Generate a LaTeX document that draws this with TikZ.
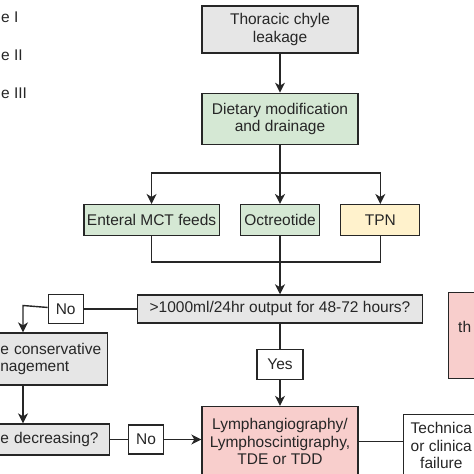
\documentclass[tikz,border=0pt]{standalone}
\usepackage{fontspec}
\setmainfont{Liberation Sans}
\usepackage{tikz}
\usetikzlibrary{arrows.meta,positioning}

\definecolor{boxgrey}{HTML}{E6E6E6}
\definecolor{boxgreen}{HTML}{D5E8D4}
\definecolor{boxyellow}{HTML}{FFF2CC}
\definecolor{boxpink}{HTML}{F8CECC}
\definecolor{linegrey}{HTML}{262626}

\begin{document}
\begin{tikzpicture}[x=1pt,y=-1pt,>={Stealth[length=10pt,width=10pt,inset=3pt]},
    font=\fontsize{15.5}{17.5}\selectfont,text=linegrey,
    every node/.style={inner xsep=3pt,inner ysep=2pt},
    base box/.style={rectangle,draw=linegrey,line width=1.3pt,align=center},
    grey box/.style={base box,fill=boxgrey},
    green box/.style={base box,fill=boxgreen},
    yellow box/.style={base box,fill=boxyellow},
    pink box/.style={base box,fill=boxpink},
    answer box/.style={base box,fill=white,minimum width=35pt,minimum height=29pt},
    link/.style={draw=linegrey,line width=1.4pt}]
  \useasboundingbox (0,0) rectangle (474,474);
  \clip (0,0) rectangle (474,474);

  % legend (cut off on the left)
  \node[anchor=west] (t1) at (-2,17) {e I};
  \node[anchor=west] (t2) at (-2,55) {e II};
  \node[anchor=west] (t3) at (-2,93) {e III};

  % main column
  \node[grey box,minimum width=156pt,minimum height=47pt] (thor) at (280,29.5) {Thoracic chyle\\leakage};
  \node[green box,minimum width=156pt,minimum height=51pt] (diet) [below=39pt of thor] {Dietary modification\\and drainage};
  \node[green box,minimum width=79pt,minimum height=31pt] (octreo) [below=59pt of diet] {Octreotide};
  \node[green box,minimum width=135pt,minimum height=31pt] (enteral) [left=20pt of octreo] {Enteral MCT feeds};
  \node[yellow box,minimum width=79pt,minimum height=31pt] (tpn) [right=20pt of octreo] {TPN};
  \node[grey box,minimum width=285pt,minimum height=28pt] (out) [below=58pt of octreo] {>1000ml/24hr output for 48-72 hours?};
  \node[answer box,minimum width=46pt,minimum height=30pt] (yes) [below=25pt of out] {Yes};
  \node[pink box,minimum width=156pt,minimum height=70pt] (lymph) [below=26pt of yes] {Lymphangiography/\\Lymphoscintigraphy,\\TDE or TDD};
  \node[base box,fill=white,minimum width=76pt,minimum height=62pt] (tech) [right=44pt of lymph,yshift=-4pt] {Technica\\or clinica\\failure};

  % left branch
  \node[answer box] (no1) [left=53pt of out] {No};
  \node[grey box,text width=104pt,align=left,minimum height=52pt,anchor=east] (cons) at (108,359) {e conservative\\nagement};
  \node[grey box,text width=106pt,align=left,minimum height=31pt,anchor=east] (decr) at (110,439.5) {e decreasing?};
  \node[answer box] (no2) [right=18pt of decr] {No};

  % right box (cut off)
  \node[pink box,minimum width=60pt,minimum height=86pt,anchor=north west] (rpink) at (448,292) {};
  \node[anchor=west] (rtext) at (455,327) {th};

  \coordinate (split) at (280,173);
  \coordinate (merge) at (280,262);
  \coordinate (c1) at (23,305.5);

  \draw[link,->] (thor) -- (diet);
  \draw[link] (diet) -- (split);
  \draw[link,->] (split) -| (enteral);
  \draw[link,->] (split) -- (octreo);
  \draw[link,->] (split) -| (tpn);
  \draw[link] (enteral) |- (merge);
  \draw[link] (tpn) |- (merge);
  \draw[link,->] (octreo) -- (out);
  \draw[link] (out) -- (no1);
  \draw[link,->] (no1) -- (c1) -- (c1 |- cons.north);
  \draw[link,->] (c1 |- cons.south) -- (c1 |- decr.north);
  \draw[link] (decr) -- (no2);
  \draw[link,->] (no2) -- (no2 -| lymph.west);
  \draw[link] (out) -- (yes);
  \draw[link,->] (yes) -- (lymph);
  \draw[link] (lymph.east) -- (lymph.east -| tech.west);
\end{tikzpicture}
\end{document}
